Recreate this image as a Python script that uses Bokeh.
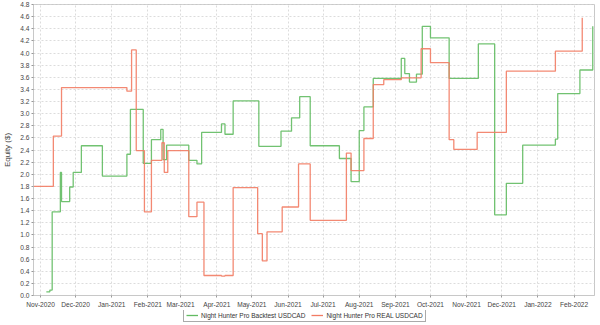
import pandas as pd
from bokeh.plotting import figure
from bokeh.layouts import column
from bokeh.models import (Legend, LegendItem, Range1d, SingleIntervalTicker, MonthsTicker,
                          DatetimeTickFormatter, NumeralTickFormatter)
from bokeh.embed import file_html
from bokeh.resources import INLINE

# ---- data ----
backtest_dates = ["2020-11-06", "2020-11-09", "2020-11-11", "2020-11-18", "2020-11-19", "2020-11-26",
                  "2020-11-29", "2020-12-06", "2020-12-24", "2021-01-14", "2021-01-17", "2021-01-28",
                  "2021-02-04", "2021-02-12", "2021-02-14", "2021-02-17", "2021-03-08", "2021-03-15",
                  "2021-03-19", "2021-04-05", "2021-04-08", "2021-04-15", "2021-05-07", "2021-05-26",
                  "2021-06-04", "2021-06-11", "2021-06-20", "2021-07-15", "2021-07-25", "2021-08-01",
                  "2021-08-05", "2021-08-13", "2021-09-06", "2021-09-09", "2021-09-13", "2021-09-19",
                  "2021-09-24", "2021-10-01", "2021-10-17", "2021-11-11", "2021-11-25", "2021-12-05",
                  "2021-12-19", "2022-01-16", "2022-01-18", "2022-02-06", "2022-02-17"]
backtest_values = [0.06, 0.09, 1.38, 2.03, 1.55, 1.79,
                   2.03, 2.47, 1.97, 2.33, 3.07, 2.18,
                   2.57, 2.74, 2.24, 2.48, 2.23, 2.17,
                   2.69, 2.83, 2.66, 3.21, 2.46, 2.71,
                   2.93, 3.28, 2.47, 2.26, 1.88, 2.72,
                   3.11, 3.58, 3.91, 3.66, 3.52, 3.65,
                   4.44, 4.25, 3.58, 4.15, 1.33, 1.85,
                   2.48, 2.58, 3.33, 3.72, 4.44]

real_dates = ["2020-10-26", "2020-11-12", "2020-11-19", "2021-01-14", "2021-01-18", "2021-01-22",
              "2021-01-29", "2021-02-04", "2021-02-13", "2021-02-15", "2021-02-18", "2021-03-08",
              "2021-03-15", "2021-03-21", "2021-04-05", "2021-04-08", "2021-04-15", "2021-05-06",
              "2021-05-10", "2021-05-14", "2021-05-27", "2021-06-10", "2021-06-20", "2021-07-21",
              "2021-07-25", "2021-08-05", "2021-08-13", "2021-08-22", "2021-09-06", "2021-09-23",
              "2021-10-01", "2021-10-17", "2021-10-21", "2021-11-10", "2021-12-05", "2022-01-16",
              "2022-02-08"]
real_values = [1.80, 2.63, 3.43, 3.37, 4.05, 2.39,
               1.38, 2.23, 2.52, 2.03, 2.39, 1.30,
               1.54, 0.33, 0.32, 0.33, 1.78, 1.02,
               0.57, 1.05, 1.46, 2.17, 1.24, 2.35,
               2.06, 2.59, 3.48, 3.56, 3.59, 4.07,
               3.84, 2.57, 2.41, 2.69, 3.70, 4.03,
               4.58]

series_names = ["Night Hunter Pro Backtest USDCAD", "Night Hunter Pro REAL USDCAD"]
y_label = "Equity ($)"

GREEN = "#62bb62"
RED = "#f27c64"
FONT = "Liberation Sans"

p = figure(width=600, height=310, x_axis_type="datetime", output_backend="svg",
           toolbar_location=None,
           x_range=Range1d(pd.Timestamp("2020-10-26"), pd.Timestamp("2022-02-18 12:00")),
           y_range=Range1d(0, 4.8001),
           min_border_left=33, min_border_right=6, min_border_top=4, min_border_bottom=13)

p.step(pd.to_datetime(backtest_dates), backtest_values, mode="after", color=GREEN,
       line_width=1.3, line_alpha=0.9)
p.step(pd.to_datetime(real_dates), real_values, mode="after", color=RED,
       line_width=1.3, line_alpha=0.9)

p.background_fill_color = "white"
p.border_fill_color = "white"
p.outline_line_color = "#c8c8c8"
p.outline_line_width = 1

p.xaxis.ticker = MonthsTicker(months=list(range(12)))
p.xaxis.formatter = DatetimeTickFormatter(months="%b-%Y", days="%b-%Y")
p.yaxis.ticker = SingleIntervalTicker(interval=0.2)
p.yaxis.formatter = NumeralTickFormatter(format="0.0")
p.yaxis.axis_label = y_label

for ax in (p.xaxis[0], p.yaxis[0]):
    ax.major_label_text_font = FONT
    ax.major_label_text_font_size = "6.6px"
    ax.major_label_text_color = "#444444"
    ax.axis_line_color = "#c8c8c8"
    ax.major_tick_line_color = "#999999"
    ax.major_tick_out = 2
    ax.major_tick_in = 0
    ax.minor_tick_out = 0
    ax.minor_tick_in = 0
    ax.major_label_standoff = 2
p.xaxis.major_label_standoff = 3
p.yaxis.axis_label_text_font = FONT
p.yaxis.axis_label_text_font_size = "8px"
p.yaxis.axis_label_text_font_style = "normal"
p.yaxis.axis_label_text_color = "#444444"
p.yaxis.axis_label_standoff = 5

for g in (p.xgrid[0], p.ygrid[0]):
    g.grid_line_color = "#dcdcdc"
    g.grid_line_dash = "2 2"
    g.grid_line_width = 1
p.ygrid.ticker = SingleIntervalTicker(interval=0.2)

# legend strip below the chart
pl = figure(width=600, height=15, output_backend="svg", toolbar_location=None,
            x_range=Range1d(0, 1), y_range=Range1d(0, 1),
            min_border_left=0, min_border_right=0, min_border_top=0, min_border_bottom=0)
pl.axis.visible = False
pl.grid.visible = False
pl.outline_line_color = None
l1 = pl.line([-5, -4], [-5, -4], color=GREEN, line_width=1.3)
l2 = pl.line([-5, -4], [-5, -4], color=RED, line_width=1.3)
leg = Legend(items=[LegendItem(label=series_names[0], renderers=[l1]),
                    LegendItem(label=series_names[1], renderers=[l2])],
             orientation="horizontal", location=(150, 3))
leg.label_text_font = FONT
leg.label_text_font_size = "6.5px"
leg.label_text_color = "#333333"
leg.label_height = 8
leg.glyph_height = 8
leg.glyph_width = 12
leg.label_standoff = 3
leg.spacing = 6
leg.padding = 2
leg.margin = 0
leg.border_line_color = "#555555"
leg.border_line_width = 1
pl.add_layout(leg, "center")

open("out.html", "w").write(file_html(column(p, pl, spacing=0), INLINE))
